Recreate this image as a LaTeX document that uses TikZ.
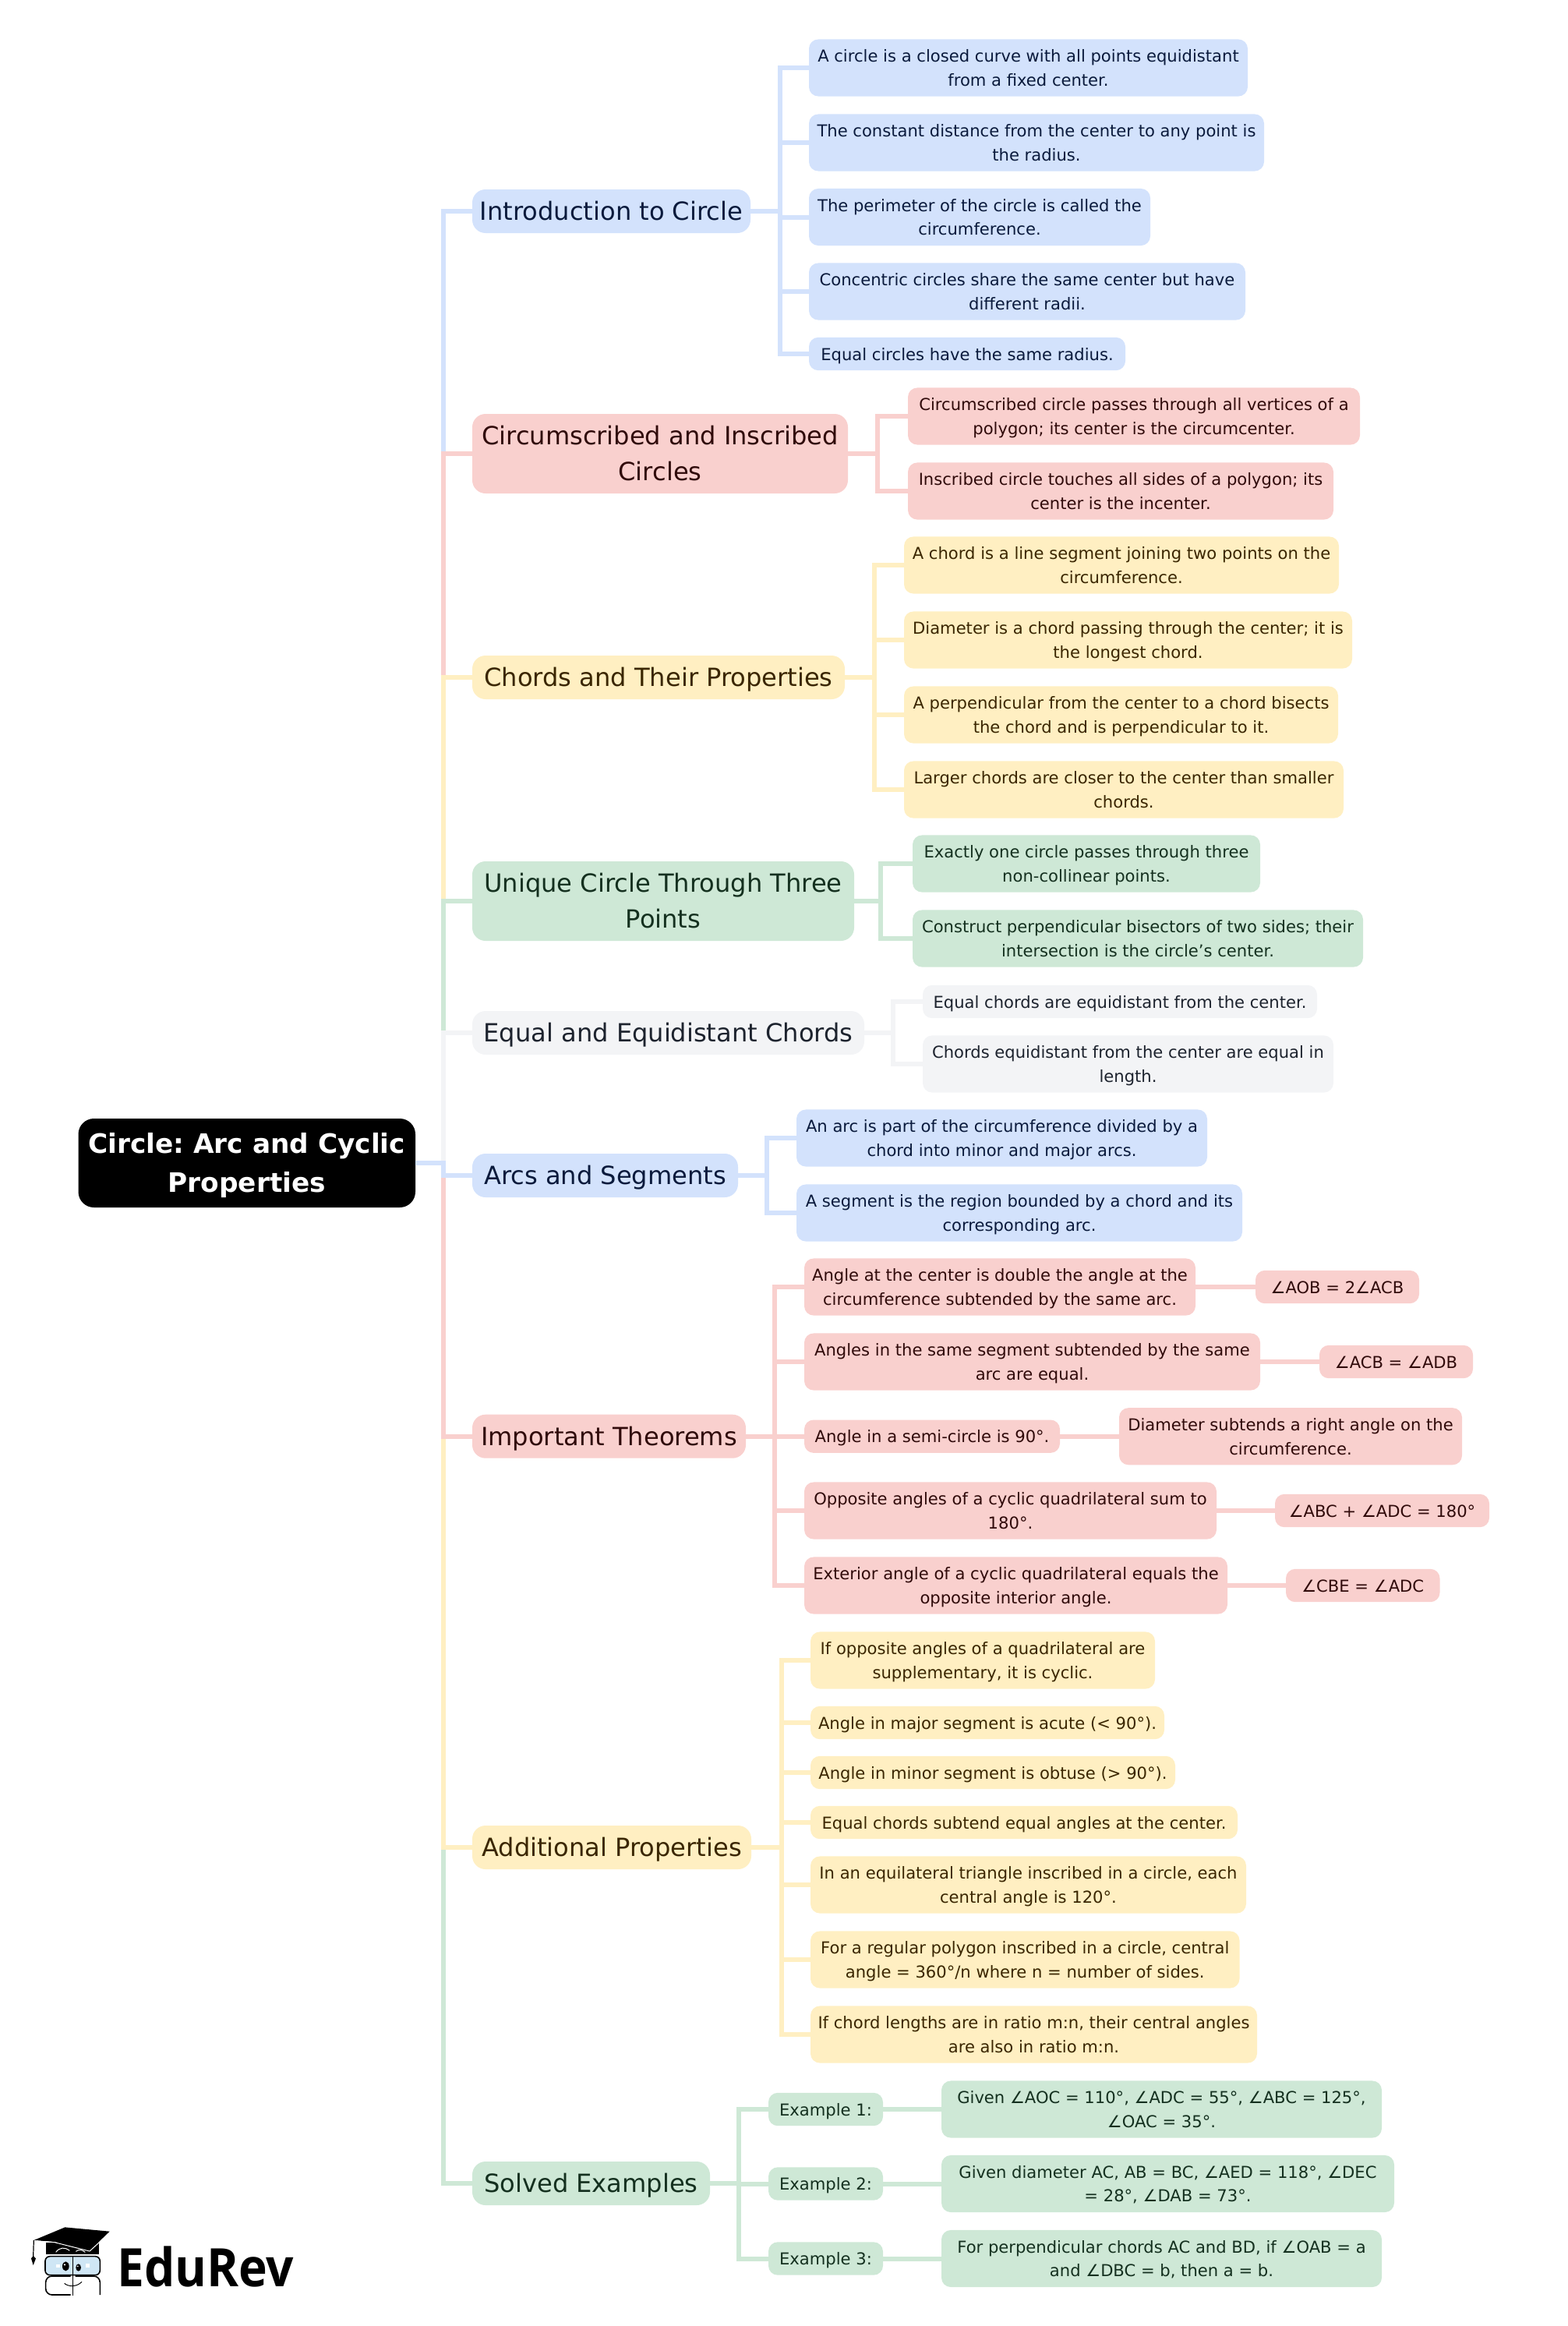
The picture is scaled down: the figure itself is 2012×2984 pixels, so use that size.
\documentclass[tikz,border=0pt]{standalone}
\usepackage{fontspec}
\setmainfont{DejaVu Sans}
\newfontfamily\logofont{Open Sans}[FakeStretch=0.915]
\AtBeginDocument{\frenchspacing}
\definecolor{cblue}{HTML}{D3E2FC}
\definecolor{cpink}{HTML}{F9D0CE}
\definecolor{cyell}{HTML}{FFEFC2}
\definecolor{cgreen}{HTML}{CEE8D6}
\definecolor{cgray}{HTML}{F3F4F6}
\definecolor{tblue}{HTML}{0A1A3C}
\definecolor{tpink}{HTML}{300A0A}
\definecolor{tyell}{HTML}{3A2600}
\definecolor{tgreen}{HTML}{14301F}
\definecolor{tgray}{HTML}{1D232E}
\definecolor{glass}{HTML}{CFE6F5}
\tikzset{
 x=1pt,y=-1pt,
 boxbase/.style={draw=none,inner xsep=0pt,align=center},
 leaf/.style={boxbase,inner ysep=6.2pt,rounded corners=12pt,font=\fontsize{21.1}{30.7}\selectfont,
   /utils/exec={\def\bxs{\rule[-7pt]{0pt}{30pt}}}},
 topic/.style={boxbase,inner ysep=5pt,rounded corners=17pt,font=\fontsize{32.1}{46}\selectfont,
   /utils/exec={\def\bxs{\rule[-11.5pt]{0pt}{46pt}}}},
 rootbox/.style={boxbase,inner ysep=7pt,fill=black,text=white,rounded corners=20pt,
   font=\fontsize{34.3}{50}\selectfont\bfseries,
   /utils/exec={\def\bxs{\rule[-13pt]{0pt}{50pt}}}},
 bl/.style={fill=cblue,text=tblue}, pk/.style={fill=cpink,text=tpink},
 yl/.style={fill=cyell,text=tyell}, gn/.style={fill=cgreen,text=tgreen},
 gy/.style={fill=cgray,text=tgray},
 conn/.style={line width=6pt,line join=miter},
}
\newcommand{\bx}[6]{\pgfmathsetmacro\bxw{#4-#3}\pgfmathsetmacro\bxc{(#3+#4)/2}%
 \node[#2,minimum width=\bxw pt] (#1) at (\bxc,#5) {\bxs #6\bxs};}
\begin{document}
\begin{tikzpicture}
\useasboundingbox (0,0) rectangle (2012,2984);
% root
\bx{root}{rootbox}{100.5}{533}{1492}{Circle: Arc and Cyclic\\Properties}
% topics
\bx{intro}{topic,bl}{606}{963}{271}{Introduction to Circle}
\bx{circ}{topic,pk}{606}{1088}{582}{Circumscribed and Inscribed\\Circles}
\bx{chords}{topic,yl}{606}{1084}{869}{Chords and Their Properties}
\bx{uniq}{topic,gn}{606}{1096}{1156}{Unique Circle Through Three\\Points}
\bx{equal}{topic,gy}{606}{1109}{1325}{Equal and Equidistant Chords}
\bx{arcs}{topic,bl}{606}{947}{1508}{Arcs and Segments}
\bx{theo}{topic,pk}{606}{957}{1842.7}{Important Theorems}
\bx{addl}{topic,yl}{606}{964}{2370}{Additional Properties}
\bx{solved}{topic,gn}{606}{911}{2801}{Solved Examples}
% intro leaves
\bx{ia}{leaf,bl}{1038}{1601}{87}{A circle is a closed curve with all points equidistant\\from a fixed center.}
\bx{ib}{leaf,bl}{1038}{1622}{183}{The constant distance from the center to any point is\\the radius.}
\bx{ic}{leaf,bl}{1038}{1476}{278.5}{The perimeter of the circle is called the\\circumference.}
\bx{id}{leaf,bl}{1038}{1598}{374}{Concentric circles share the same center but have\\different radii.}
\bx{ie}{leaf,bl}{1038}{1444}{454}{Equal circles have the same radius.}
% circumscribed leaves
\bx{ca}{leaf,pk}{1165}{1745}{534}{Circumscribed circle passes through all vertices of a\\polygon; its center is the circumcenter.}
\bx{cb}{leaf,pk}{1165}{1711}{630}{Inscribed circle touches all sides of a polygon; its\\center is the incenter.}
% chord leaves
\bx{cha}{leaf,yl}{1160}{1718}{725}{A chord is a line segment joining two points on the\\circumference.}
\bx{chb}{leaf,yl}{1160}{1735}{821}{Diameter is a chord passing through the center; it is\\the longest chord.}
\bx{chc}{leaf,yl}{1160}{1717}{917}{A perpendicular from the center to a chord bisects\\the chord and is perpendicular to it.}
\bx{chd}{leaf,yl}{1160}{1724}{1013}{Larger chords are closer to the center than smaller\\chords.}
% unique leaves
\bx{ua}{leaf,gn}{1171}{1617}{1108}{Exactly one circle passes through three\\non-collinear points.}
\bx{ub}{leaf,gn}{1171}{1749}{1204}{Construct perpendicular bisectors of two sides; their\\intersection is the circle’s center.}
% equal leaves
\bx{ea}{leaf,gy}{1184}{1690}{1285}{Equal chords are equidistant from the center.}
\bx{eb}{leaf,gy}{1184}{1711}{1365}{Chords equidistant from the center are equal in\\length.}
% arc leaves
\bx{aa}{leaf,bl}{1022}{1549}{1460}{An arc is part of the circumference divided by a\\chord into minor and major arcs.}
\bx{ab}{leaf,bl}{1022}{1594}{1556}{A segment is the region bounded by a chord and its\\corresponding arc.}
% theorem leaves
\bx{ta}{leaf,pk}{1032}{1534}{1651}{Angle at the center is double the angle at the\\circumference subtended by the same arc.}
\bx{tb}{leaf,pk}{1032}{1617}{1747}{Angles in the same segment subtended by the same\\arc are equal.}
\bx{tc}{leaf,pk}{1032}{1360}{1842.7}{Angle in a semi-circle is 90°.}
\bx{td}{leaf,pk}{1032}{1561}{1938}{Opposite angles of a cyclic quadrilateral sum to\\180°.}
\bx{te}{leaf,pk}{1032}{1575}{2034}{Exterior angle of a cyclic quadrilateral equals the\\opposite interior angle.}
\bx{tax}{leaf,pk}{1611}{1821}{1651}{∠AOB = 2∠ACB}
\bx{tbx}{leaf,pk}{1693}{1890}{1747}{∠ACB = ∠ADB}
\bx{tcx}{leaf,pk}{1436}{1876}{1842.7}{Diameter subtends a right angle on the\\circumference.}
\bx{tdx}{leaf,pk}{1636}{1911}{1938}{∠ABC + ∠ADC = 180°}
\bx{tex}{leaf,pk}{1650}{1847.5}{2034}{∠CBE = ∠ADC}
% additional leaves
\bx{pa}{leaf,yl}{1040}{1482}{2130}{If opposite angles of a quadrilateral are\\supplementary, it is cyclic.}
\bx{pb}{leaf,yl}{1040}{1494}{2210}{Angle in major segment is acute (< 90°).}
\bx{pc}{leaf,yl}{1040}{1508}{2274}{Angle in minor segment is obtuse (> 90°).}
\bx{pd}{leaf,yl}{1040}{1588}{2338}{Equal chords subtend equal angles at the center.}
\bx{pe}{leaf,yl}{1040}{1599}{2418}{In an equilateral triangle inscribed in a circle, each\\central angle is 120°.}
\bx{pf}{leaf,yl}{1040}{1590.5}{2514}{For a regular polygon inscribed in a circle, central\\angle = 360°/n where n = number of sides.}
\bx{pg}{leaf,yl}{1040}{1613}{2610}{If chord lengths are in ratio m:n, their central angles\\are also in ratio m:n.}
% examples
\bx{xa}{leaf,gn}{986}{1133}{2706}{Example 1:}
\bx{xb}{leaf,gn}{986}{1133}{2801.5}{Example 2:}
\bx{xc}{leaf,gn}{986}{1133}{2897.5}{Example 3:}
\bx{xax}{leaf,gn}{1208}{1773}{2706}{Given ∠AOC = 110°, ∠ADC = 55°, ∠ABC = 125°,\\∠OAC = 35°.}
\bx{xbx}{leaf,gn}{1208}{1789}{2801.5}{Given diameter AC, AB = BC, ∠AED = 118°, ∠DEC\\= 28°, ∠DAB = 73°.}
\bx{xcx}{leaf,gn}{1208}{1773}{2897.5}{For perpendicular chords AC and BD, if ∠OAB = a\\and ∠DBC = b, then a = b.}
% spine and branch points
\coordinate (sp) at (569,1492);
\coordinate (bi) at (1001,271);
\coordinate (bc) at (1126,582);
\coordinate (bh) at (1122,869);
\coordinate (bu) at (1130,1156);
\coordinate (be) at (1146,1325);
\coordinate (ba) at (984,1508);
\coordinate (bt) at (994,1842.7);
\coordinate (bp) at (1003,2370);
\coordinate (bs) at (947.5,2801);
% main connectors (stacking as in the picture)
\draw[conn,cblue] (root.east) -| (sp) |- (intro.west);
\draw[conn,cpink] (root.east) -| (sp) |- (circ.west);
\draw[conn,cyell] (root.east) -| (sp) |- (chords.west);
\draw[conn,cgreen] (root.east) -| (sp) |- (uniq.west);
\draw[conn,cgray] (root.east) -| (sp) |- (equal.west);
\draw[conn,cgreen] (root.east) -| (sp) |- (solved.west);
\draw[conn,cyell] (root.east) -| (sp) |- (addl.west);
\draw[conn,cpink] (root.east) -| (sp) |- (theo.west);
\draw[conn,cblue] (root.east) -| (sp) |- (arcs.west);
% branch connectors
\foreach \c in {ia,ib,ic,id,ie} \draw[conn,cblue] (intro.east) -| (bi) |- (\c.west);
\foreach \c in {ca,cb} \draw[conn,cpink] (circ.east) -| (bc) |- (\c.west);
\foreach \c in {cha,chb,chc,chd} \draw[conn,cyell] (chords.east) -| (bh) |- (\c.west);
\foreach \c in {ua,ub} \draw[conn,cgreen] (uniq.east) -| (bu) |- (\c.west);
\foreach \c in {ea,eb} \draw[conn,cgray] (equal.east) -| (be) |- (\c.west);
\foreach \c in {aa,ab} \draw[conn,cblue] (arcs.east) -| (ba) |- (\c.west);
\foreach \c in {ta,tb,tc,td,te} \draw[conn,cpink] (theo.east) -| (bt) |- (\c.west);
\foreach \c in {pa,pb,pc,pd,pe,pf,pg} \draw[conn,cyell] (addl.east) -| (bp) |- (\c.west);
\foreach \c in {xa,xb,xc} \draw[conn,cgreen] (solved.east) -| (bs) |- (\c.west);
\foreach \a/\b in {ta/tax,tb/tbx,tc/tcx,td/tdx,te/tex} \draw[conn,cpink] (\a.east) -- (\b.west);
\foreach \a/\b in {xa/xax,xb/xbx,xc/xcx} \draw[conn,cgreen] (\a.east) -- (\b.west);
% logo
\node[inner sep=0pt,anchor=base west,font=\fontsize{68}{68}\selectfont\logofont\bfseries,text=black] (logotext) at (150,2933) {EduRev};
\begin{scope}[shift={(0,2800)},x=0.3333pt,y=-0.3333pt]
 \fill[black] (178,232) -- (178,275) -- (380,275) -- (380,232) -- cycle;
 \fill[black] (130,222) -- (250,172) -- (422,188) -- (345,262) -- (210,228) -- cycle;
 \draw[white,line width=1pt] (135,224) -- (210,230) -- (345,264) -- (380,232);
 \draw[black,line width=1.2pt] (130,222) -- (128,285);
 \fill[black] (120,292) -- (128,282) -- (138,292) -- (128,318) -- cycle;
 \draw[white,line width=1pt] (215,268) .. controls (230,248) and (250,248) .. (268,262);
 \draw[white,line width=1pt] (292,265) .. controls (305,255) and (315,258) .. (328,268);
 \draw[black,line width=1.6pt,fill=glass,rounded corners=6pt] (174,284) rectangle (385,356);
 \draw[black,line width=1.6pt,rounded corners=8pt] (272,360) -- (176,360) -- (176,432) -- (272,432);
 \draw[black,line width=1.6pt,rounded corners=8pt] (290,360) -- (385,360) -- (385,432);
 \draw[black,line width=1.6pt] (281,282) -- (281,436);
 \fill[black] (253,322) ellipse [x radius=13,y radius=18];
 \fill[black] (302,327) ellipse [x radius=10,y radius=14];
 \fill[white] (249,316) circle [radius=3.5];
 \fill[white] (299,322) circle [radius=3];
 \fill[white] (215,314) rectangle (230,328);
 \fill[white] (330,312) rectangle (346,328);
 \draw[black,line width=1pt] (248,388) .. controls (265,402) and (295,402) .. (315,382);
\end{scope}
\end{tikzpicture}
\end{document}
